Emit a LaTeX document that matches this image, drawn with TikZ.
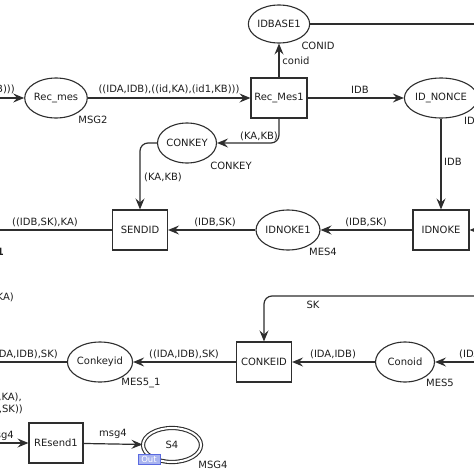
\documentclass[tikz,border=0pt]{standalone}
\usepackage{fontspec}
\setmainfont{DejaVu Sans}
\usetikzlibrary{arrows.meta,shapes.geometric}
\definecolor{ln}{HTML}{2E2E2E}
\definecolor{txt}{HTML}{1E1E1E}
\definecolor{outfill}{HTML}{A9B4F0}
\definecolor{outdraw}{HTML}{5A6AE0}
\begin{document}
\begin{tikzpicture}[x=1pt,y=-1pt,
  every node/.style={font=\fontsize{10}{12}\selectfont, text=txt},
  place/.style={draw=ln, line width=1.1pt, ellipse, minimum width=60pt, minimum height=40pt, inner sep=0pt},
  trans/.style={draw=ln, line width=1.1pt, rectangle, minimum width=56pt, minimum height=40pt, inner sep=0pt},
  arc/.style={draw=ln, line width=1.2pt, -{Stealth[length=11pt,width=9pt,inset=4pt]}},
  plain/.style={draw=ln, line width=1.2pt},
  lbl/.style={inner sep=0pt}]
\useasboundingbox (0,0) rectangle (474,474);
\fill[white] (0,0) rectangle (474,474);

% places and transitions
\node[place, minimum height=38pt] (idbase1) at (279,24) {IDBASE1};
\node[place] (recmes) at (56,98) {Rec\_mes};
\node[trans] (recmes1) at (279,98) {Rec\_Mes1};
\node[place, minimum width=59pt] (idnonce) at (441,98) {ID\_NONCE};
\node[place, minimum width=59pt] (conkey) at (187,143) {CONKEY};
\node[trans] (idnoke) at (441,230) {IDNOKE};
\node[place] (idnoke1) at (288,230) {IDNOKE1};
\node[trans, minimum width=55pt] (sendid) at (140,230) {SENDID};
\node[trans, minimum width=55pt] (conkeid) at (264,362) {CONKEID};
\node[place, minimum width=59pt] (conoid) at (405,362) {Conoid};
\node[place, minimum width=61pt] (conkeyid) at (100,362) {Conkeyid};
\node[trans, minimum width=54pt] (resend1) at (56,443) {REsend1};
\node[place, minimum width=58pt, minimum height=34pt, double=white, double distance=2pt] (s4) at (172,445) {S4};
\node[draw=outdraw, fill=outfill, text=white, inner sep=1pt, minimum width=22pt, minimum height=10pt,
      font=\fontsize{8.5}{9}\selectfont] (outtag) at (149,459) {Out};

% free ends
\coordinate (inA) at (0,98);
\coordinate (outIdb) at (474,24);
\coordinate (inB) at (474,230);
\coordinate (outA) at (0,230);
\coordinate (skR) at (474,296);
\coordinate (inC) at (474,362);
\coordinate (outB) at (0,362);
\coordinate (inD) at (0,443);

% connectors
\draw[arc] (inA) -- (recmes.west);
\draw[arc] (recmes) -- (recmes1);
\draw[arc] (recmes1.north) -- (idbase1.south);
\draw[plain] (idbase1.east) -- (outIdb);
\draw[arc] (recmes1) -- (idnonce);
\draw[arc, rounded corners=8pt] (recmes1.south) |- (conkey.east);
\draw[arc, rounded corners=8pt] (conkey.west) -| (sendid.north);
\draw[arc] (idnonce.south) -- (idnoke.north);
\draw[arc] (inB) -- (idnoke.east);
\draw[arc] (idnoke) -- (idnoke1);
\draw[arc] (idnoke1) -- (sendid);
\draw[plain] (sendid.west) -- (outA);
\draw[arc, rounded corners=8pt] (skR) -| (conkeid.north);
\draw[arc] (inC) -- (conoid.east);
\draw[arc] (conoid) -- (conkeid);
\draw[arc] (conkeid) -- (conkeyid);
\draw[plain] (conkeyid.west) -- (outB);
\draw[arc] (inD) -- (resend1.west);
\draw[arc] (resend1) -- (s4);

% labels
\node[lbl, anchor=east] at (15,89) {KB)))};
\node[lbl] at (169,89) {((IDA,IDB),((id,KA),(id1,KB)))};
\node[lbl] at (93,120) {MSG2};
\node[lbl] at (296,61) {conid};
\node[lbl] at (318,46) {CONID};
\node[lbl] at (360,90) {IDB};
\node[lbl, anchor=west] at (464,121) {IDB};
\node[lbl] at (453,162) {IDB};
\node[lbl] at (259,136) {(KA,KB)};
\node[lbl] at (231,166) {CONKEY};
\node[lbl] at (163,177) {(KA,KB)};
\node[lbl] at (366,222) {(IDB,SK)};
\node[lbl] at (323,252) {MES4};
\node[lbl] at (215,222) {(IDB,SK)};
\node[lbl] at (45,222) {((IDB,SK),KA)};
\node[lbl, anchor=east, font=\bfseries\fontsize{10}{12}\selectfont] at (4,252) {MES1};
\node[lbl, anchor=east] at (14,297) {(IDB,SK),KA)};
\node[lbl] at (313,305) {SK};
\node[lbl] at (333,354) {(IDA,IDB)};
\node[lbl] at (440,383) {MES5};
\node[lbl, anchor=west] at (459,354) {(IDA,IDB)};
\node[lbl] at (184,354) {((IDA,IDB),SK)};
\node[lbl] at (141,383) {MES5\_1};
\node[lbl, anchor=east] at (58,354) {((IDA,IDB),SK)};
\node[lbl, anchor=east] at (22,397) {(IDA,KA),};
\node[lbl, anchor=east] at (23,409) {(IDB,SK))};
\node[lbl, anchor=east] at (14,436) {msg4};
\node[lbl] at (113,434) {msg4};
\node[lbl] at (213,465) {MSG4};
\end{tikzpicture}
\end{document}
